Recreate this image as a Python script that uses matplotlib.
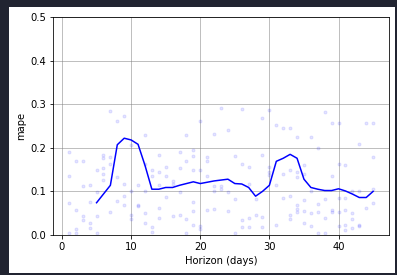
import matplotlib
matplotlib.use("Agg")
from matplotlib import pyplot as plt
from matplotlib.patches import Rectangle

# scattered mape values per horizon day (day 1 .. 45)
point_mape = [
    [0.19, 0.135, 0.073, 0.004],
    [0.169, 0.057, 0.014, 0.004],
    [0.169, 0.112, 0.044, 0.034],
    [0.114, 0.075, 0.027, 0.017],
    [0.148, 0.098, 0.044, 0.004],
    [0.183, 0.177, 0.153, 0.139, 0.127],
    [0.284, 0.178, 0.162, 0.052],
    [0.261, 0.132, 0.078],
    [0.273, 0.116, 0.089, 0.068],
    [0.207, 0.101, 0.047, 0.037],
    [0.114, 0.069, 0.066],
    [0.229, 0.162, 0.1, 0.05, 0.027],
    [0.148, 0.135, 0.018, 0.006],
    [0.183, 0.144, 0.114, 0.063, 0.038],
    [0.157, 0.136, 0.088],
    [0.123, 0.118, 0.043],
    [0.19, 0.153, 0.099, 0.045],
    [0.229, 0.169, 0.037, 0.004],
    [0.196, 0.182, 0.149, 0.076, 0.056, 0.022],
    [0.261, 0.148, 0.021, 0.014],
    [0.18, 0.169, 0.135, 0.057],
    [0.232, 0.112, 0.102, 0.06],
    [0.291, 0.112, 0.105],
    [0.241, 0.098, 0.054],
    [0.181, 0.082, 0.004],
    [0.288, 0.162, 0.034, 0.018],
    [0.157, 0.116, 0.038, 0.018],
    [0.082, 0.047],
    [0.268, 0.183, 0.041, 0.018],
    [0.286, 0.157, 0.144, 0.137],
    [0.252, 0.114, 0.022],
    [0.245, 0.139, 0.084],
    [0.245, 0.148, 0.089, 0.045, 0.036],
    [0.224, 0.144, 0.132, 0.068, 0.059, 0.052],
    [0.16, 0.14, 0.08, 0.054, 0.027],
    [0.224, 0.1, 0.05, 0.02],
    [0.199, 0.07, 0.052, 0.004],
    [0.281, 0.082, 0.038, 0.004],
    [0.258, 0.135, 0.057, 0.052],
    [0.256, 0.162, 0.084, 0.052, 0.02],
    [0.16, 0.084, 0.057, 0.024, 0.011],
    [0.102, 0.05, 0.036, 0.015],
    [0.208, 0.102, 0.024, 0.02],
    [0.258, 0.063],
    [0.258, 0.18, 0.105, 0.073],
]

# rolling mean of mape by horizon
line_days = list(range(5, 46))
line_mape = [0.074, 0.094, 0.114, 0.207, 0.222, 0.218, 0.208, 0.160, 0.105,
             0.105, 0.109, 0.109, 0.114, 0.118, 0.122, 0.118, 0.121, 0.124,
             0.126, 0.128, 0.118, 0.117, 0.109, 0.089, 0.100, 0.114, 0.169,
             0.176, 0.185, 0.176, 0.128, 0.109, 0.105, 0.102, 0.102, 0.106,
             0.101, 0.094, 0.086, 0.086, 0.100]

point_days = []
point_vals = []
for day, vals in enumerate(point_mape, start=1):
    for v in vals:
        point_days.append(day)
        point_vals.append(v)

W, H = 397, 275
fig = plt.figure(figsize=(W / 72, H / 72), dpi=72)
fig.patch.set_facecolor("#212431")
fig.add_artist(Rectangle((9 / W, 2 / H), 386 / W, 266 / H,
                         transform=fig.transFigure, facecolor="white",
                         edgecolor="none", zorder=-10))

ax = fig.add_axes([53 / W, 40 / H, 336 / W, 218 / H])
ax.plot(point_days, point_vals, ".", alpha=0.1, c="b")
ax.plot(line_days, line_mape, "-", c="b")
ax.grid(True, which="major", c="gray", ls="-", lw=1, alpha=0.5)
ax.set_axisbelow(True)
ax.set_ylim(0, 0.5)
ax.set_xlim(-1.3, 47.3)
ax.set_xlabel("Horizon (days)")
ax.set_ylabel("mape")

fig.savefig("out.png", dpi=72, facecolor=fig.get_facecolor())
